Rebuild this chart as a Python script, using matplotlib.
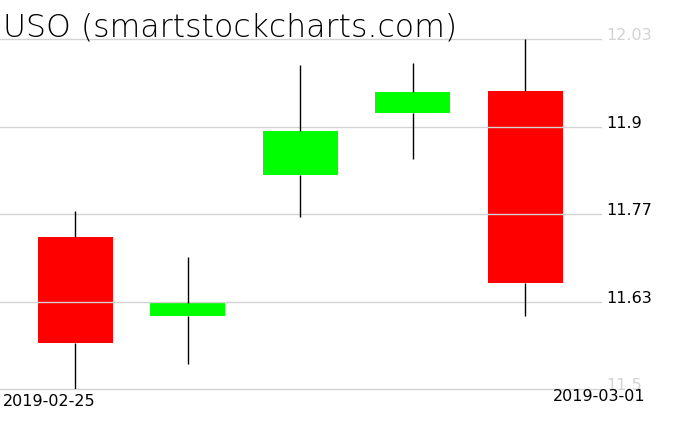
import numpy as np
import matplotlib
matplotlib.use("Agg")
import matplotlib.pyplot as plt

mpl = matplotlib
mpl.rcParams['font.family'] = 'DejaVu Sans'

# USO daily candles, week of 2019-02-25
dates = ["2019-02-25", "2019-02-26", "2019-02-27", "2019-02-28", "2019-03-01"]
opens = [11.730, 11.610, 11.825, 11.919, 11.951]
highs = [11.770, 11.700, 11.991, 11.994, 12.030]
lows = [11.500, 11.538, 11.760, 11.849, 11.610]
closes = [11.569, 11.630, 11.891, 11.950, 11.660]

ytick_vals = np.linspace(min(lows), max(highs), 5)
ytick_labels = ["11.5", "11.63", "11.77", "11.9", "12.03"]
ytick_colors = ["#d3d3d3", "black", "black", "black", "#d3d3d3"]

W, H = 676, 431
fig = plt.figure(figsize=(W / 100, H / 100), dpi=100)
ax = fig.add_axes([0, 1 - 390 / H, 600.7 / W, (390 - 40.3) / H])

x = np.arange(len(dates))
o = np.array(opens)
c = np.array(closes)
up = c >= o
colors = np.where(up, "#00ff00", "#ff0000")
body_lo = np.minimum(o, c)
body_hi = np.maximum(o, c)

ax.bar(x, body_hi - body_lo, bottom=body_lo, width=0.667, color=colors,
       linewidth=0, zorder=1)
ax.vlines(x, body_hi, highs, color="black", lw=1, zorder=3)
ax.vlines(x, lows, body_lo, color="black", lw=1, zorder=3)

ax.set_xlim(-0.67, 4.67)
ax.set_ylim(min(lows), max(highs))

ax.set_yticks(ytick_vals, ytick_labels)
ax.yaxis.tick_right()
ax.tick_params(axis='y', length=0, pad=4, labelsize=11.5)
for lbl, col in zip(ax.get_yticklabels(), ytick_colors):
    lbl.set_color(col)
    lbl.set_verticalalignment('baseline')
ax.set_xticks([])
ax.grid(axis='y', color="#d3d3d3", lw=1)
for gl in ax.get_ygridlines():
    gl.set_clip_on(False)
ax.set_axisbelow(False)
for s in ax.spines.values():
    s.set_visible(False)

fig.text(3 / W, 1 - 36.7 / H, "USO (smartstockcharts.com)", fontsize=22.7,
         ha='left', va='baseline', color="black", fontweight='light')
fig.text(3 / W, 1 - 406.3 / H, dates[0], fontsize=11.5, ha='left', va='baseline')
fig.text(645 / W, 1 - 401 / H, dates[-1], fontsize=11.5, ha='right', va='baseline')

fig.savefig("out.png", dpi=100)
